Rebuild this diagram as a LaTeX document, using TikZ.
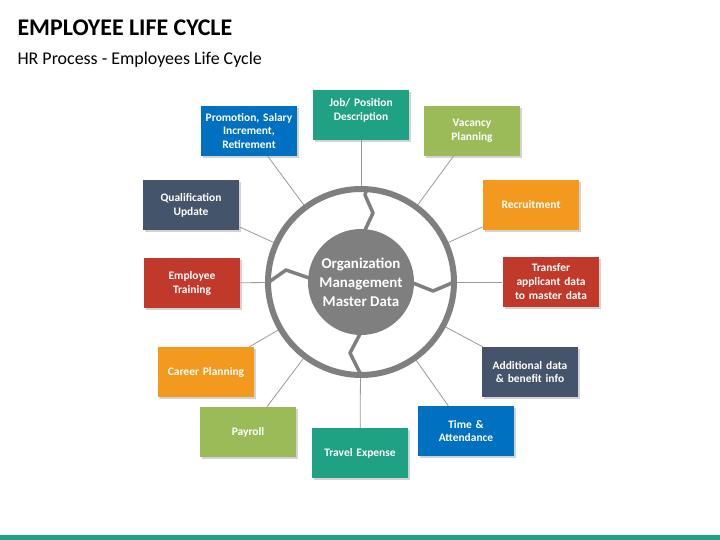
\documentclass[tikz,border=0pt]{standalone}
\usepackage{fontspec}
\setmainfont{Carlito}
\usetikzlibrary{shadows, positioning}
\definecolor{teal0}{HTML}{1FA184}
\definecolor{green0}{HTML}{9BBB59}
\definecolor{orange0}{HTML}{F39A1E}
\definecolor{red0}{HTML}{C0392B}
\definecolor{slate0}{HTML}{44546A}
\definecolor{blue0}{HTML}{0070C0}
\definecolor{ring}{HTML}{7F7F7F}
\tikzstyle{box} = [rectangle, minimum width=94bp, minimum height=50bp, text width=90bp, align=center, text=white, font=\fontsize{11.5}{14}\selectfont\bfseries, drop shadow={opacity=0.35, shadow xshift=2bp, shadow yshift=-2bp}]
\tikzstyle{spoke} = [draw=gray!80, line width=0.8bp]

\begin{document}
\begin{tikzpicture}[x=1bp, y=-1bp]

    \useasboundingbox (0,0) rectangle (720,540);
    \fill[teal0] (0,535) rectangle (720,540);

    \node[anchor=west, font=\fontsize{24}{28}\selectfont\bfseries] (title) at (14,28) {EMPLOYEE LIFE CYCLE};
    \node[anchor=west, font=\fontsize{18}{21}\selectfont] (sub) at (14,60) {HR Process - Employees Life Cycle};

    \coordinate (c) at (361,282);

    \node (b1) [box, fill=teal0] at (361,115) {Job/ Position\\Description\\[-2pt]\phantom{x}};
    \node (b2) [box, fill=green0] at (472,131) {Vacancy\\Planning};
    \node (b3) [box, fill=orange0] at (531,205) {Recruitment};
    \node (b4) [box, fill=red0] at (551,282) {Transfer\\applicant data\\to master data};
    \node (b5) [box, fill=slate0] at (530,372) {Additional data\\\& benefit info};
    \node (b6) [box, fill=blue0] at (466,431) {Time \&\\Attendance};
    \node (b7) [box, fill=teal0] at (360,453) {Travel Expense};
    \node (b8) [box, fill=green0] at (248,432) {Payroll};
    \node (b9) [box, fill=orange0] at (206,372) {Career Planning};
    \node (b10) [box, fill=red0] at (192,283) {Employee\\Training};
    \node (b11) [box, fill=slate0] at (191,205) {Qualification\\Update};
    \node (b12) [box, fill=blue0] at (249,131) {Promotion, Salary\\Increment,\\Retirement};

    \foreach \b in {b1,b2,b3,b4,b5,b6,b7,b8,b9,b10,b11,b12}
        \draw [spoke] (c) -- (\b);

    % ring and hub
    \draw[ring, line width=6bp, fill=white] (c) circle (93);
    \fill[ring] (c) circle (53);
    \draw[ring, line width=3.5bp, line join=round]
        (365,230) -- (373,213) -- (365,195) -- (367,188)
        (413,283) -- (433,291) -- (452,283)
        (360,334) -- (350,353) -- (360,373)
        (309,278) -- (286,270) -- (269,282);
    \node[text=white, align=center, font=\fontsize{15}{19}\selectfont\bfseries] (hub) at (c) {Organization\\Management\\Master Data};

\end{tikzpicture}
\end{document}
